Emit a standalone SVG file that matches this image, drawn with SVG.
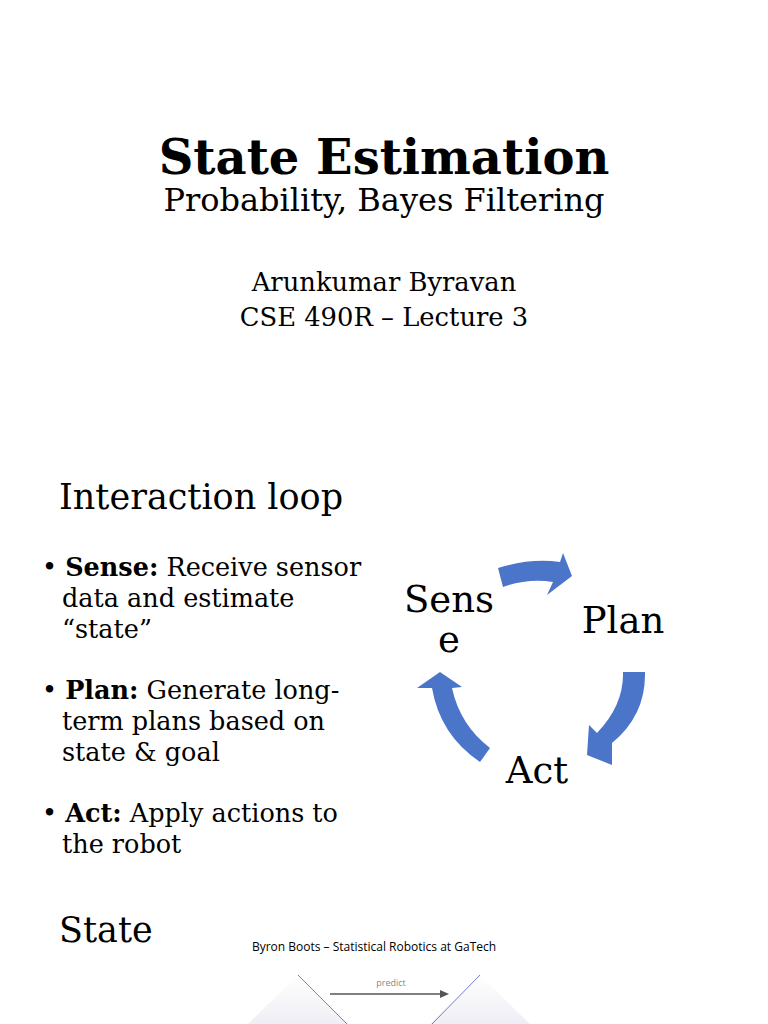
<svg xmlns="http://www.w3.org/2000/svg" width="768" height="1024" viewBox="0 0 768 1024">
<style>
.s{font-family:"DejaVu Serif",serif;fill:#000}
.a{fill:#4a75c9}
</style>
<defs><linearGradient id="g" x1="0" y1="0" x2="0" y2="1"><stop offset="0" stop-color="#fff"/><stop offset="1" stop-color="#eeeef5"/></linearGradient></defs>
<rect width="768" height="1024" fill="#fff"/>
<g id="title">
<text class="s" x="384" y="174" font-size="48" font-weight="bold" text-anchor="middle">State Estimation</text>
<text class="s" x="384" y="211" font-size="32" text-anchor="middle">Probability, Bayes Filtering</text>
<text class="s" x="384" y="291" font-size="25.8" text-anchor="middle">Arunkumar Byravan</text>
<text class="s" x="384" y="326" font-size="25.8" text-anchor="middle">CSE 490R – Lecture 3</text>
</g>
<g id="heading"><text class="s" x="59" y="509" font-size="35">Interaction loop</text></g>
<g id="bullets" font-size="25.5">
<text class="s" x="42" y="576">• <tspan font-weight="bold">Sense:</tspan> Receive sensor</text>
<text class="s" x="62" y="607">data and estimate</text>
<text class="s" x="62" y="638">“state”</text>
<text class="s" x="42" y="699">• <tspan font-weight="bold">Plan:</tspan> Generate long-</text>
<text class="s" x="62" y="730">term plans based on</text>
<text class="s" x="62" y="761">state &amp; goal</text>
<text class="s" x="42" y="822">• <tspan font-weight="bold">Act:</tspan> Apply actions to</text>
<text class="s" x="62" y="853">the robot</text>
</g>
<g id="sense"><text class="s" x="449" y="612" font-size="37" text-anchor="middle">Sens</text><text class="s" x="449" y="652" font-size="37" text-anchor="middle">e</text></g>
<g id="plan"><text class="s" x="623" y="633" font-size="37" text-anchor="middle">Plan</text></g>
<g id="act"><text class="s" x="537" y="783" font-size="37" text-anchor="middle">Act</text></g>
<g id="connectors">
<path class="a" d="M498,568 Q530,558 560,562 L563,553 L572,576 L547,595 L553,582 Q528,578 503,587 Z"/>
<path class="a" d="M623,672 L645,672 Q646,715 612,743 L612,765 L587,755 L589,725 L597,733 Q624,705 623,672 Z"/>
<path class="a" d="M480,762 Q440,735 432,688 L417,688 L440,672 L462,687 L452,688 Q460,725 490,748 Z"/>
</g>
<g id="state"><text class="s" x="59" y="942" font-size="35">State</text></g>
<g id="credit"><text x="374" y="951" font-family="Open Sans,sans-serif" font-size="12" text-anchor="middle">Byron Boots – Statistical Robotics at GaTech</text></g>
<g id="figure">
<path d="M298,975 L248,1024 L348,1024 Z" fill="url(#g)"/>
<path d="M480,975 L530,1024 L430,1024 Z" fill="url(#g)"/>
<line x1="298" y1="975" x2="347" y2="1024" stroke="#7a80c0" stroke-width="1"/>
<line x1="480" y1="975" x2="432" y2="1024" stroke="#7a80c0" stroke-width="1"/>
<line x1="330" y1="994" x2="442" y2="994" stroke="#555" stroke-width="1.5"/>
<path d="M449,994 L440,990 L440,998 Z" fill="#555"/>
<text x="391" y="986" font-family="Open Sans,sans-serif" font-size="9" fill="#888" text-anchor="middle">predict</text>
</g>
</svg>
